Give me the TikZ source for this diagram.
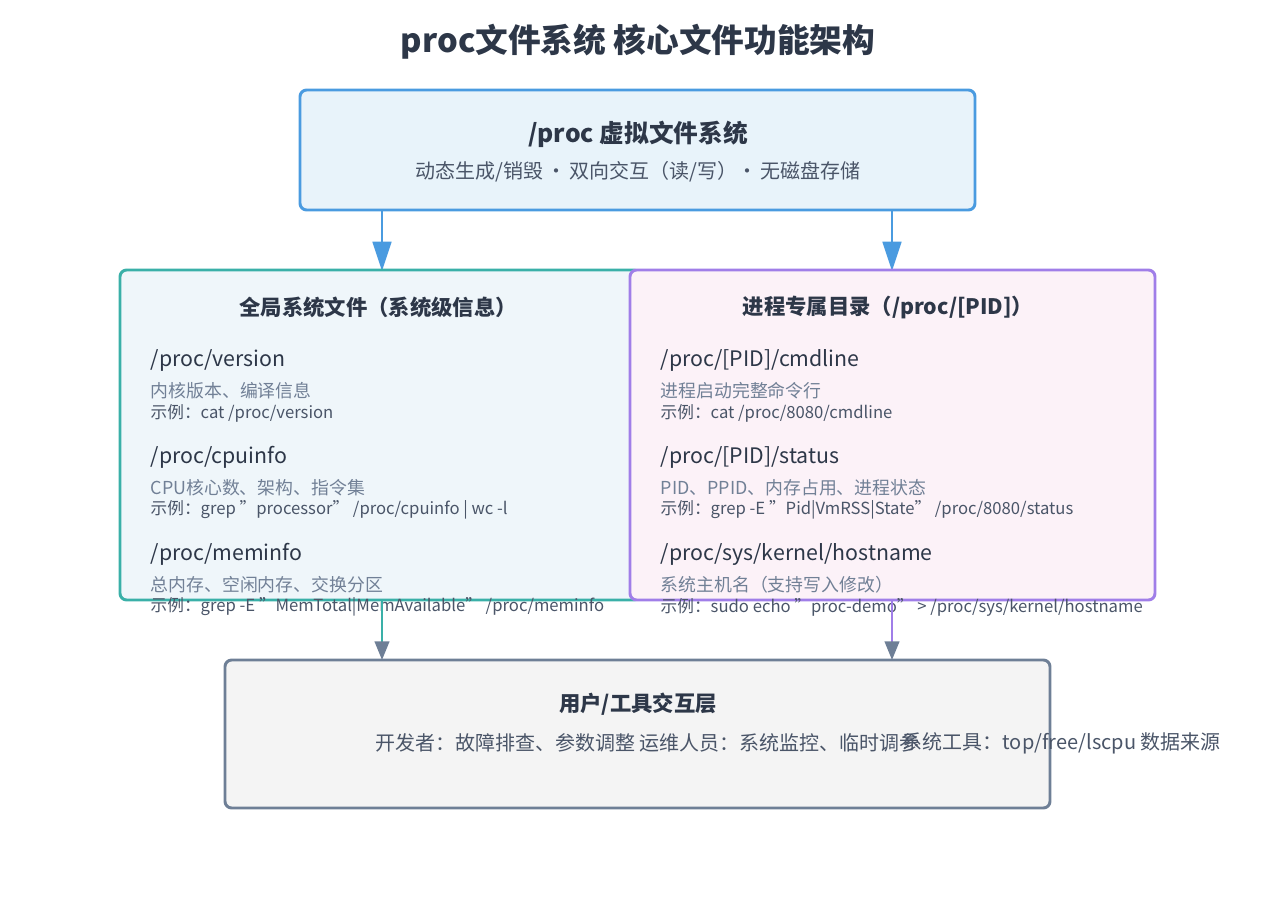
\documentclass[tikz,border=0pt]{standalone}
\usepackage{fontspec}
\setmainfont{Noto Sans CJK SC}[Ligatures=ResetAll]
\usetikzlibrary{arrows.meta}
\definecolor{dark}{HTML}{2D3748}
\definecolor{mid}{HTML}{4A5568}
\definecolor{light}{HTML}{718096}
\definecolor{blueS}{HTML}{4A9BE0}
\definecolor{blueF}{HTML}{E8F3FA}
\definecolor{tealS}{HTML}{3AB0A8}
\definecolor{tealF}{HTML}{EFF6FA}
\definecolor{purS}{HTML}{A07EE8}
\definecolor{purF}{HTML}{FCF2F8}
\definecolor{grayS}{HTML}{6E7F96}
\definecolor{grayF}{HTML}{F4F4F4}
\tikzset{
 box/.style={line width=2.2pt, rounded corners=5pt},
 hd/.style={font=\bfseries\fontsize{16}{19}\selectfont, text=dark},
 path/.style={anchor=west, font=\fontsize{16}{19}\selectfont, text=dark},
 desc/.style={anchor=west, font=\fontsize{13.4}{16}\selectfont, text=light},
 ex/.style={anchor=west, font=\fontsize{12.5}{15}\selectfont, text=mid},
 bt/.style={anchor=west, font=\fontsize{15}{18}\selectfont, text=mid},
 blarrow/.style={draw=blueS, line width=2pt, -{Triangle[length=22pt,width=14pt]}},
 garrow/.style={line width=1.6pt, -{Triangle[length=14pt,width=11pt,fill=grayS,color=grayS]}},
}
\begin{document}
\begin{tikzpicture}[x=0.75pt,y=-0.75pt]
\useasboundingbox (0,0) rectangle (1275,900);
\node[font=\bfseries\fontsize{24.5}{28}\selectfont, text=dark] (title) at (638,42) {proc文件系统 核心文件功能架构};
% top
\draw[box, draw=blueS, fill=blueF] (300,90) rectangle (975,210);
\node[font=\bfseries\fontsize{18.5}{22}\selectfont, text=dark] (toph) at (638,134) {/proc 虚拟文件系统};
\node[font=\fontsize{15}{18}\selectfont, text=mid] (tops) at (638,172) {动态生成/销毁\,·\,双向交互（读/写）·\,无磁盘存储};
\coordinate (tl) at (382,210); \coordinate (tr) at (892,210);
\coordinate (ml) at (382,271); \coordinate (mr) at (892,271);
\draw[blarrow] (tl) -- (ml);
\draw[blarrow] (tr) -- (mr);
% left
\draw[box, draw=tealS, fill=tealF] (120,270) rectangle (640,600);
% right
\draw[box, draw=purS, fill=purF] (630,270) rectangle (1155,600);
\node[hd] (lh) at (378,307) {全局系统文件（系统级信息）};
\node[hd] (rh) at (888,307) {进程专属目录（/proc/[PID]）};
\node[path] (l1) at (146,360) {/proc/version};
\node[desc] (l1d) at (146,391) {内核版本、编译信息};
\node[ex] (l1e) at (146,413) {示例：cat /proc/version};
\node[path] (l2) at (146,457) {/proc/cpuinfo};
\node[desc] (l2d) at (146,488) {CPU核心数、架构、指令集};
\node[ex] (l2e) at (146,510) {示例：grep \symbol{34}processor\symbol{34} /proc/cpuinfo | wc -l};
\node[path] (l3) at (146,554) {/proc/meminfo};
\node[desc] (l3d) at (146,585) {总内存、空闲内存、交换分区};
\node[ex] (l3e) at (146,607) {示例：grep -E \symbol{34}MemTotal|MemAvailable\symbol{34} /proc/meminfo};
\node[path] (r1) at (656,360) {/proc/[PID]/cmdline};
\node[desc] (r1d) at (656,391) {进程启动完整命令行};
\node[ex] (r1e) at (656,413) {示例：cat /proc/8080/cmdline};
\node[path] (r2) at (656,457) {/proc/[PID]/status};
\node[desc] (r2d) at (656,488) {PID、PPID、内存占用、进程状态};
\node[ex] (r2e) at (656,510) {示例：grep -E \symbol{34}Pid|VmRSS|State\symbol{34} /proc/8080/status};
\node[path] (r3) at (656,554) {/proc/sys/kernel/hostname};
\node[desc] (r3d) at (656,585) {系统主机名（支持写入修改）};
\node[ex] (r3e) at (656,607) {示例：sudo echo \symbol{34}proc-demo\symbol{34} > /proc/sys/kernel/hostname};
% bottom
\coordinate (bl0) at (382,600); \coordinate (br0) at (892,600);
\coordinate (bl1) at (382,660); \coordinate (br1) at (892,660);
\draw[garrow, draw=tealS] (bl0) -- (bl1);
\draw[garrow, draw=purS] (br0) -- (br1);
\draw[box, draw=grayS, fill=grayF] (225,660) rectangle (1050,808);
\node[hd] (bh) at (638,704) {用户/工具交互层};
\node[bt] (b1) at (371,743) {开发者：故障排查、参数调整};
\node[bt] (b2) at (635,743) {运维人员：系统监控、临时调参};
\node[bt] (b3) at (898,743) {系统工具：top/free/lscpu 数据来源};
\end{tikzpicture}
\end{document}
